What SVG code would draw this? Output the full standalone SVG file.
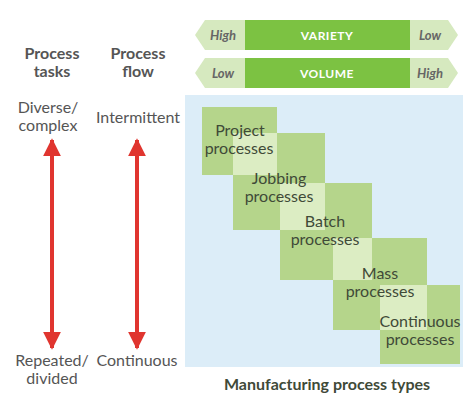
<svg xmlns="http://www.w3.org/2000/svg" width="474" height="412" viewBox="0 0 474 412">
<defs>
<style>
.t{font-family:Lato,"Open Sans","Liberation Sans",sans-serif;fill:#555;font-size:16px;text-anchor:middle}
.b{font-weight:bold}
.g{fill:#3f4a38;font-size:16px}
.lt{fill:#d6e9bf}
.dk{fill:#7cc242}
.bt{font-family:Lato,"Liberation Sans",sans-serif;font-size:12px;font-weight:bold;fill:#fff;text-anchor:middle;letter-spacing:0.5px}
.bi{font-family:Lato,"Liberation Sans",sans-serif;font-size:13px;font-weight:bold;font-style:italic;fill:#666;text-anchor:middle}
.sq{fill:#b5d58b}
.ov{fill:#dcedc3}
.arr{stroke:#e0352f;stroke-width:4;fill:none}
</style>
<marker id="ah" viewBox="0 0 10 10" refX="9" refY="5" markerWidth="4.5" markerHeight="4.5" orient="auto-start-reverse" markerUnits="strokeWidth"><path d="M0,0 L10,5 L0,10 z" fill="#e0352f"/></marker>
</defs>
<rect width="474" height="412" fill="#fff"/>
<g id="variety">
<polygon class="lt" points="195,35 205,20 448,20 458,35 448,50 205,50"/>
<rect class="dk" x="245" y="20" width="165" height="30"/>
<text class="bi" x="223" y="39.5">High</text>
<text class="bt" x="327" y="39.5">VARIETY</text>
<text class="bi" x="430" y="39.5">Low</text>
</g>
<g id="volume">
<polygon class="lt" points="195,73 205,58 448,58 458,73 448,88 205,88"/>
<rect class="dk" x="245" y="58" width="165" height="30"/>
<text class="bi" x="223" y="77.5">Low</text>
<text class="bt" x="327" y="77.5">VOLUME</text>
<text class="bi" x="430" y="77.5">High</text>
</g>
<g id="panel">
<rect x="185" y="95" width="278" height="272" fill="#dcedf8"/>
</g>
<g id="project"><rect class="sq" x="202" y="107" width="75" height="68"/></g>
<g id="jobbing"><rect class="sq" x="233" y="133" width="92" height="97"/></g>
<g id="batch"><rect class="sq" x="280" y="183" width="92" height="97"/></g>
<g id="mass"><rect class="sq" x="333" y="238" width="94" height="92"/></g>
<g id="continuous"><rect class="sq" x="380" y="285" width="80" height="79"/></g>
<g id="overlaps">
<rect class="ov" x="233" y="133" width="44" height="42"/>
<rect class="ov" x="280" y="183" width="45" height="47"/>
<rect class="ov" x="333" y="238" width="39" height="42"/>
<rect class="ov" x="380" y="285" width="47" height="45"/>
</g>
<g id="labels">
<text class="t g" x="240" y="136">Project</text>
<text class="t g" x="239" y="154">processes</text>
<text class="t g" x="279" y="184">Jobbing</text>
<text class="t g" x="279" y="202">processes</text>
<text class="t g" x="325" y="227">Batch</text>
<text class="t g" x="325" y="245">processes</text>
<text class="t g" x="380" y="279">Mass</text>
<text class="t g" x="380" y="297">processes</text>
<text class="t g" x="420" y="327">Continuous</text>
<text class="t g" x="420" y="345">processes</text>
<text class="t b g" x="327" y="390" style="font-size:16px">Manufacturing process types</text>
</g>
<g id="tasks">
<text class="t b" x="52" y="59">Process</text>
<text class="t b" x="52" y="77">tasks</text>
<text class="t" x="48" y="113">Diverse/</text>
<text class="t" x="48" y="131">complex</text>
<text class="t" x="52" y="366">Repeated/</text>
<text class="t" x="52" y="384">divided</text>
</g>
<g id="flow">
<text class="t b" x="138" y="59">Process</text>
<text class="t b" x="138" y="77">flow</text>
<text class="t" x="138" y="123">Intermittent</text>
<text class="t" x="137" y="366">Continuous</text>
</g>
<g id="connectors">
<line class="arr" x1="52" y1="140" x2="52" y2="348" marker-start="url(#ah)" marker-end="url(#ah)"/>
<line class="arr" x1="137" y1="140" x2="137" y2="348" marker-start="url(#ah)" marker-end="url(#ah)"/>
</g>
</svg>
